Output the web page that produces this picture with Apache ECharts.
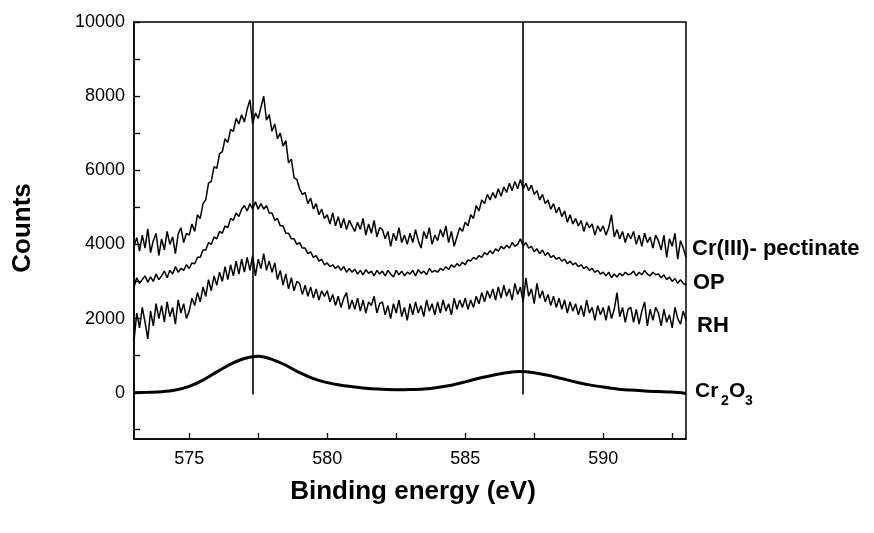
<!DOCTYPE html>
<html>
<head>
<meta charset="utf-8">
<script src="https://cdn.jsdelivr.net/npm/echarts@6/dist/echarts.min.js"></script>
<style>
html, body { margin: 0; padding: 0; background: #fff; }
#chart { width: 874px; height: 533px; }
</style>
</head>
<body>
<div id="chart"></div>
<script>
// spectra sampled every 0.1 eV from 573 eV
var xStart = 573;
var xStep = 0.1;

var pectinate = [
    3950, 4180, 3820, 4250, 3900, 4420, 3780, 4100, 4300, 3700,
    4150, 3850, 4350, 4000, 4200, 3750, 4280, 4450, 4050, 4300,
    4250, 4550, 4350, 4800, 4700, 5100, 5200, 5650, 5700, 6100,
    6050, 6450, 6500, 6850, 6750, 7100, 7050, 7400, 7250, 7500,
    7300, 7650, 7900, 7250, 7550, 7400, 7700, 8000, 7350, 7500,
    7050, 7250, 6850, 7000, 6650, 6800, 6200, 6300, 5800, 5750,
    5500, 5350, 5400, 5100, 5250, 4950, 5100, 4800, 4950, 4700,
    4800, 4550, 4850, 4500, 4750, 4450, 4700, 4400, 4650, 4500,
    4350, 4600, 4400, 4700, 4250, 4550, 4300, 4650, 4200, 4450,
    4400, 4150, 4350, 3950, 4300, 4100, 4450, 4050, 4250, 4000,
    4300, 4050, 4400, 4100, 3900, 4350, 4150, 4450, 4000, 4250,
    4100, 4400, 4200, 4500, 4050, 4350, 3950, 4200, 4450, 4350,
    4600, 4500, 4800, 4700, 5050, 4900, 5200, 5100, 5350, 5200,
    5400, 5250, 5500, 5300, 5550, 5400, 5650, 5450, 5700, 5500,
    5750, 5500, 5650, 5450, 5600, 5350, 5450, 5200, 5350, 5100,
    5200, 4950, 5100, 4850, 5000, 4750, 4900, 4600, 4800, 4550,
    4700, 4500, 4650, 4350, 4600, 4450, 4550, 4250, 4500, 4350,
    4500, 4250, 4450, 4800, 4200, 4400, 4150, 4350, 4050, 4300,
    4150, 4350, 4000, 4250, 3950, 4300, 4050, 4200, 3900, 4250,
    4100, 3850, 4250, 3650, 4150, 3950, 4300, 3600, 4100, 3900,
    3650
];

var op = [
    2850, 3100, 2950, 3050, 3150, 2980, 3120, 3000, 3200, 3050,
    3150, 3280, 3100, 3300, 3200, 3400, 3250, 3350, 3300, 3450,
    3350, 3500, 3480, 3650, 3650, 3850, 3850, 4050, 4000, 4200,
    4150, 4350, 4300, 4500, 4450, 4700, 4650, 4850, 4750, 4950,
    5050, 4900, 5100, 4950, 5150, 4950, 5100, 4950, 5050, 4850,
    4850, 4650, 4700, 4500, 4500, 4300, 4300, 4150, 4150, 4000,
    4050, 3900, 3900, 3750, 3800, 3650, 3700, 3550, 3600, 3450,
    3500, 3400, 3450, 3350, 3420, 3300, 3400, 3250, 3350, 3250,
    3330, 3200, 3300, 3180, 3320, 3220, 3280, 3150, 3300, 3200,
    3280, 3150, 3300, 3200, 3120, 3300, 3180, 3280, 3150, 3250,
    3200, 3300, 3150, 3320, 3220, 3280, 3180, 3350, 3250, 3300,
    3250, 3350, 3300, 3400, 3320, 3450, 3380, 3480, 3420, 3520,
    3450, 3580, 3550, 3650, 3600, 3700, 3650, 3780, 3720, 3830,
    3750, 3880, 3820, 3950, 3880, 3980, 3900, 4050, 3950, 4000,
    4150, 3950, 4050, 3900, 3950, 3800, 3880, 3750, 3850, 3700,
    3780, 3650, 3700, 3600, 3650, 3550, 3600, 3480, 3550, 3450,
    3500, 3400, 3450, 3350, 3400, 3300, 3350, 3250, 3300, 3200,
    3250, 3150, 3250, 3100, 3200, 3120, 3220, 3150, 3250, 3180,
    3200, 3280, 3150, 3250, 3180, 3300, 3200, 3150, 3250, 3180,
    3200, 3100, 3180, 3050, 3120, 3000, 3080, 2950, 3050, 2950,
    2900
];

var rh = [
    1400, 2150, 1750, 2300, 1900, 1450, 2200, 1800, 2400, 2000,
    2350, 1900, 2450, 2050, 2300, 1850, 2500, 2150, 2400, 2000,
    2200, 2550, 2350, 2700, 2450, 2850, 2600, 3050, 2750, 3150,
    2900, 3250, 3000, 3400, 3050, 3450, 3150, 3550, 3200, 3600,
    3250, 3650, 3300, 3700, 3150, 3600, 3350, 3750, 3300, 3550,
    3250, 3500, 3050, 3300, 2900, 3200, 2800, 3100, 2750, 3000,
    2950, 2650, 2900, 2600, 2850, 2550, 2800, 2500, 2750, 2600,
    2750, 2450, 2650, 2350, 2600, 2300, 2550, 2700, 2250, 2500,
    2250, 2550, 2200, 2500, 2150, 2450, 2350, 2600, 2150, 2400,
    2450, 2100, 2350, 2000, 2400, 2150, 2500, 2050, 2300, 1950,
    2400, 2100, 2450, 2150, 2350, 2050, 2500, 2200, 2400, 2100,
    2450, 2150, 2500, 2200, 2400, 2100, 2550, 2250, 2500, 2300,
    2550, 2250, 2500, 2300, 2600, 2400, 2700, 2450, 2750, 2550,
    2800, 2500, 2850, 2550, 2900, 2600, 2800, 2500, 2950, 2650,
    2850, 2450, 3100, 2600, 2800, 2400, 2950, 2550, 2750, 2450,
    2650, 2350, 2600, 2300, 2550, 2250, 2500, 2150, 2450, 2200,
    2400, 2100, 2350, 2050, 2500, 2150, 2300, 1950, 2350, 2100,
    2300, 1950, 2350, 2000, 2250, 2700, 2050, 2300, 1900, 2250,
    2300, 1900, 2250, 1850, 2200, 2450, 1800, 2250, 1950, 2300,
    2150, 1800, 2250, 1900, 2100, 1750, 2300, 2000, 1850, 2200,
    1950
];

// Cr2O3 reference, every 0.5 eV
var oxideStep = 0.5;
var cr2o3 = [
    0, 10, 25, 70, 170, 340, 560, 770, 920, 980,
    900, 740, 540, 380, 270, 200, 150, 110, 90, 80,
    85, 100, 140, 200, 290, 390, 470, 540, 570, 540,
    470, 380, 290, 210, 150, 100, 70, 45, 30, 15,
    -20
];

var peakLines = [577.3, 587.1];
var xTicks = [575, 577.5, 580, 582.5, 585, 587.5, 590, 592.5];
var xLabels = [575, 580, 585, 590];
var yTicks = [-1000, 0, 1000, 2000, 3000, 4000, 5000, 6000, 7000, 8000, 9000, 10000];
var yLabels = [0, 2000, 4000, 6000, 8000, 10000];

function toPairs(vals, step) {
    return vals.map(function (v, i) {
        return [+(xStart + i * step).toFixed(2), v];
    });
}

var dom = document.getElementById('chart');
var myChart = echarts.init(dom);

var lineSeries = function (name, vals, step, width) {
    return {
        name: name,
        type: 'line',
        data: toPairs(vals, step),
        showSymbol: false,
        symbol: 'none',
        lineStyle: { color: '#000', width: width },
        silent: true
    };
};

var oxide = lineSeries('Cr2O3', cr2o3, oxideStep, 3);
oxide.smooth = 0.3;
oxide.markLine = {
    silent: true,
    symbol: ['none', 'none'],
    label: { show: false },
    lineStyle: { color: '#000', width: 1.6, type: 'solid' },
    data: peakLines.map(function (x) {
        return [{ coord: [x, -50] }, { coord: [x, 10000] }];
    })
};

var font = 'Arial, "Liberation Sans", Helvetica, sans-serif';
var plain = function (v) { return String(v); };

var option = {
    animation: false,
    backgroundColor: '#fff',
    grid: {
        left: 134, right: 188, top: 22, bottom: 94,
        show: true, borderColor: '#000', borderWidth: 1.5
    },
    xAxis: {
        type: 'value',
        min: 573,
        max: 593,
        axisLine: { show: true, onZero: false, lineStyle: { color: '#000', width: 1.5 } },
        axisTick: { show: true, inside: true, length: 6, customValues: xTicks, lineStyle: { color: '#000', width: 1.3 } },
        axisLabel: { customValues: xLabels, formatter: plain, color: '#000', fontSize: 18, fontFamily: font, margin: 11 },
        splitLine: { show: false }
    },
    yAxis: {
        type: 'value',
        min: -1250,
        max: 10000,
        axisLine: { show: true, onZero: false, lineStyle: { color: '#000', width: 1.5 } },
        axisTick: { show: true, inside: true, length: 6, customValues: yTicks, lineStyle: { color: '#000', width: 1.3 } },
        axisLabel: { customValues: yLabels, formatter: plain, color: '#000', fontSize: 18, fontFamily: font, margin: 9 },
        splitLine: { show: false }
    },
    series: [
        lineSeries('Cr(III)- pectinate', pectinate, xStep, 1.5),
        lineSeries('OP', op, xStep, 1.5),
        lineSeries('RH', rh, xStep, 1.5),
        oxide
    ],
    graphic: [
        { type: 'text', left: 692, top: 238, style: { text: 'Cr(III)- pectinate', font: 'bold 22px ' + font, fill: '#000' } },
        { type: 'text', left: 693, top: 272, style: { text: 'OP', font: 'bold 22px ' + font, fill: '#000' } },
        { type: 'text', left: 697, top: 315, style: { text: 'RH', font: 'bold 22px ' + font, fill: '#000' } },
        { type: 'text', left: 695, top: 381, style: { text: 'Cr', font: 'bold 21px ' + font, fill: '#000' } },
        { type: 'text', left: 721, top: 394, style: { text: '2', font: 'bold 14px ' + font, fill: '#000' } },
        { type: 'text', left: 729, top: 381, style: { text: 'O', font: 'bold 21px ' + font, fill: '#000' } },
        { type: 'text', left: 745, top: 394, style: { text: '3', font: 'bold 14px ' + font, fill: '#000' } },
        {
            type: 'text', x: 413, y: 492,
            style: { text: 'Binding energy (eV)', font: 'bold 26px ' + font, fill: '#000', align: 'center', verticalAlign: 'middle' }
        },
        {
            type: 'text', x: 23, y: 228, rotation: Math.PI / 2,
            style: { text: 'Counts', font: 'bold 26px ' + font, fill: '#000', align: 'center', verticalAlign: 'middle' }
        }
    ]
};

myChart.setOption(option);
</script>
</body>
</html>
